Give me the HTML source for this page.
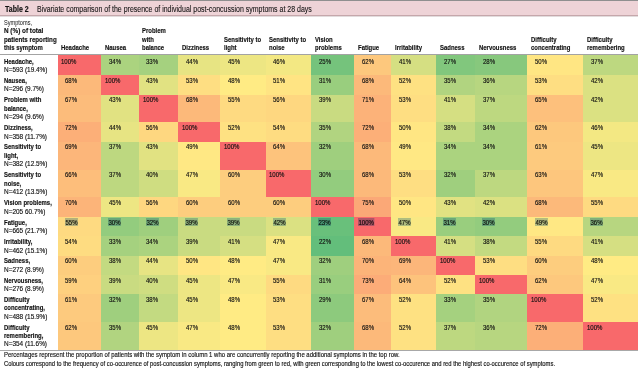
<!DOCTYPE html>
<html><head><meta charset="utf-8"><style>
html,body{margin:0;padding:0;background:#fff;}
body{width:640px;height:368px;overflow:hidden;position:relative;font-family:"Liberation Sans",sans-serif;color:#111;}
.a{position:absolute;}
.t{position:absolute;white-space:pre;font-size:7px;line-height:8.5px;transform-origin:0 0;transform:scaleX(0.92);-webkit-text-stroke:0.15px #111;}
.t.b{font-weight:bold;transform:scaleX(0.85);-webkit-text-stroke:0.15px #111;}
.n{position:absolute;white-space:pre;font-size:7px;line-height:8.5px;transform-origin:0 0;transform:scaleX(0.86);-webkit-text-stroke:0.15px #111;}
.hl{background:#b4cff5;mix-blend-mode:multiply;padding:0 0.5px;}
</style></head><body>

<div class="a" style="left:0;top:0;width:638px;height:1px;background:#8f8f8f"></div>
<div class="a" style="left:0;top:1px;width:638px;height:14px;background:#eed3d7"></div>
<div class="a" style="left:0;top:15px;width:638px;height:1px;background:#c5a7ab"></div>
<div class="a" style="left:0;top:16px;width:638px;height:1px;background:#e2dcdd"></div>
<div class="t b" style="left:4.7px;top:4.15px;font-size:8.8px;line-height:10px;transform:scaleX(0.80)">Table 2</div>
<div class="t" style="left:37px;top:4.15px;font-size:8.8px;line-height:10px;transform:scaleX(0.795);-webkit-text-stroke:0.1px #231f20">Bivariate comparison of the presence of individual post-concussion symptoms at 28 days</div>
<div class="t " style="left:4.3px;top:18.62px;transform:scaleX(0.80);-webkit-text-stroke:0">Symptoms,</div>
<div class="t b" style="left:4.3px;top:27.22px;transform:scaleX(0.91)">N (%) of total</div>
<div class="t b" style="left:4.3px;top:35.82px;transform:scaleX(0.885)">patients reporting</div>
<div class="t b" style="left:4.3px;top:44.42px">this symptom</div>
<div class="t b" style="left:61.10px;top:44.42px">Headache</div>
<div class="t b" style="left:104.80px;top:44.42px">Nausea</div>
<div class="t b" style="left:142.20px;top:27.22px">Problem</div>
<div class="t b" style="left:142.20px;top:35.82px">with</div>
<div class="t b" style="left:142.20px;top:44.42px">balance</div>
<div class="t b" style="left:181.70px;top:44.42px">Dizziness</div>
<div class="t b" style="left:223.50px;top:35.82px">Sensitivity to</div>
<div class="t b" style="left:223.50px;top:44.42px">light</div>
<div class="t b" style="left:269.10px;top:35.82px">Sensitivity to</div>
<div class="t b" style="left:269.10px;top:44.42px">noise</div>
<div class="t b" style="left:314.70px;top:35.82px">Vision</div>
<div class="t b" style="left:314.70px;top:44.42px">problems</div>
<div class="t b" style="left:357.70px;top:44.42px">Fatigue</div>
<div class="t b" style="left:394.70px;top:44.42px">Irritability</div>
<div class="t b" style="left:439.70px;top:44.42px">Sadness</div>
<div class="t b" style="left:478.70px;top:44.42px">Nervousness</div>
<div class="t b" style="left:530.90px;top:35.82px">Difficulty</div>
<div class="t b" style="left:530.90px;top:44.42px">concentrating</div>
<div class="t b" style="left:586.70px;top:35.82px">Difficulty</div>
<div class="t b" style="left:586.70px;top:44.42px">remembering</div>
<div class="a" style="left:0;top:54px;width:638px;height:1px;background:#a3a3a3"></div>
<div class="a" style="left:57.6px;top:54.5px;width:43.70px;height:20.50px;background:#f8696b"></div>
<div class="a" style="left:101.3px;top:54.5px;width:37.40px;height:20.50px;background:#abd37f"></div>
<div class="a" style="left:138.7px;top:54.5px;width:39.50px;height:20.50px;background:#a5d17f"></div>
<div class="a" style="left:178.2px;top:54.5px;width:41.80px;height:20.50px;background:#e7e483"></div>
<div class="a" style="left:220px;top:54.5px;width:45.60px;height:20.50px;background:#ede683"></div>
<div class="a" style="left:265.6px;top:54.5px;width:45.60px;height:20.50px;background:#f3e883"></div>
<div class="a" style="left:311.2px;top:54.5px;width:43.00px;height:20.50px;background:#75c37c"></div>
<div class="a" style="left:354.2px;top:54.5px;width:37.00px;height:20.50px;background:#fdc87d"></div>
<div class="a" style="left:391.2px;top:54.5px;width:45.00px;height:20.50px;background:#d5df82"></div>
<div class="a" style="left:436.2px;top:54.5px;width:39.00px;height:20.50px;background:#81c77d"></div>
<div class="a" style="left:475.2px;top:54.5px;width:52.20px;height:20.50px;background:#87c87d"></div>
<div class="a" style="left:527.4px;top:54.5px;width:55.80px;height:20.50px;background:#ffe683"></div>
<div class="a" style="left:583.2px;top:54.5px;width:54.80px;height:20.50px;background:#bdd880"></div>
<div class="n" style="left:61.40px;top:57.82px">100%</div>
<div class="n" style="left:108.80px;top:57.82px">34%</div>
<div class="n" style="left:146.20px;top:57.82px">33%</div>
<div class="n" style="left:185.70px;top:57.82px">44%</div>
<div class="n" style="left:227.50px;top:57.82px">45%</div>
<div class="n" style="left:273.10px;top:57.82px">46%</div>
<div class="n" style="left:318.70px;top:57.82px">25%</div>
<div class="n" style="left:361.70px;top:57.82px">62%</div>
<div class="n" style="left:398.70px;top:57.82px">41%</div>
<div class="n" style="left:443.70px;top:57.82px">27%</div>
<div class="n" style="left:482.70px;top:57.82px">28%</div>
<div class="n" style="left:534.90px;top:57.82px">50%</div>
<div class="n" style="left:590.70px;top:57.82px">37%</div>
<div class="t b" style="left:4.2px;top:57.82px">Headache,</div>
<div class="t " style="left:4.2px;top:66.22px">N=593 (19.4%)</div>
<div class="a" style="left:57.6px;top:75px;width:43.70px;height:19.50px;background:#fcb97a"></div>
<div class="a" style="left:101.3px;top:75px;width:37.40px;height:19.50px;background:#f8696b"></div>
<div class="a" style="left:138.7px;top:75px;width:39.50px;height:19.50px;background:#e1e282"></div>
<div class="a" style="left:178.2px;top:75px;width:41.80px;height:19.50px;background:#fede82"></div>
<div class="a" style="left:220px;top:75px;width:45.60px;height:19.50px;background:#ffeb84"></div>
<div class="a" style="left:265.6px;top:75px;width:45.60px;height:19.50px;background:#ffe483"></div>
<div class="a" style="left:311.2px;top:75px;width:43.00px;height:19.50px;background:#99ce7e"></div>
<div class="a" style="left:354.2px;top:75px;width:37.00px;height:19.50px;background:#fcb97a"></div>
<div class="a" style="left:391.2px;top:75px;width:45.00px;height:19.50px;background:#fee182"></div>
<div class="a" style="left:436.2px;top:75px;width:39.00px;height:19.50px;background:#b1d480"></div>
<div class="a" style="left:475.2px;top:75px;width:52.20px;height:19.50px;background:#b7d680"></div>
<div class="a" style="left:527.4px;top:75px;width:55.80px;height:19.50px;background:#fede82"></div>
<div class="a" style="left:583.2px;top:75px;width:54.80px;height:19.50px;background:#dbe182"></div>
<div class="n" style="left:65.10px;top:76.72px">68%</div>
<div class="n" style="left:105.10px;top:76.72px">100%</div>
<div class="n" style="left:146.20px;top:76.72px">43%</div>
<div class="n" style="left:185.70px;top:76.72px">53%</div>
<div class="n" style="left:227.50px;top:76.72px">48%</div>
<div class="n" style="left:273.10px;top:76.72px">51%</div>
<div class="n" style="left:318.70px;top:76.72px">31%</div>
<div class="n" style="left:361.70px;top:76.72px">68%</div>
<div class="n" style="left:398.70px;top:76.72px">52%</div>
<div class="n" style="left:443.70px;top:76.72px">35%</div>
<div class="n" style="left:482.70px;top:76.72px">36%</div>
<div class="n" style="left:534.90px;top:76.72px">53%</div>
<div class="n" style="left:590.70px;top:76.72px">42%</div>
<div class="t b" style="left:4.2px;top:76.72px">Nausea,</div>
<div class="t " style="left:4.2px;top:85.12px">N=296 (9.7%)</div>
<div class="a" style="left:57.6px;top:94.5px;width:43.70px;height:27.90px;background:#fcbc7b"></div>
<div class="a" style="left:101.3px;top:94.5px;width:37.40px;height:27.90px;background:#e1e282"></div>
<div class="a" style="left:138.7px;top:94.5px;width:39.50px;height:27.90px;background:#f8696b"></div>
<div class="a" style="left:178.2px;top:94.5px;width:41.80px;height:27.90px;background:#fcb97a"></div>
<div class="a" style="left:220px;top:94.5px;width:45.60px;height:27.90px;background:#feda81"></div>
<div class="a" style="left:265.6px;top:94.5px;width:45.60px;height:27.90px;background:#fed780"></div>
<div class="a" style="left:311.2px;top:94.5px;width:43.00px;height:27.90px;background:#c9db81"></div>
<div class="a" style="left:354.2px;top:94.5px;width:37.00px;height:27.90px;background:#fcb279"></div>
<div class="a" style="left:391.2px;top:94.5px;width:45.00px;height:27.90px;background:#fede82"></div>
<div class="a" style="left:436.2px;top:94.5px;width:39.00px;height:27.90px;background:#d5df82"></div>
<div class="a" style="left:475.2px;top:94.5px;width:52.20px;height:27.90px;background:#bdd880"></div>
<div class="a" style="left:527.4px;top:94.5px;width:55.80px;height:27.90px;background:#fdc07c"></div>
<div class="a" style="left:583.2px;top:94.5px;width:54.80px;height:27.90px;background:#dbe182"></div>
<div class="n" style="left:65.10px;top:96.22px">67%</div>
<div class="n" style="left:108.80px;top:96.22px">43%</div>
<div class="n" style="left:142.50px;top:96.22px">100%</div>
<div class="n" style="left:185.70px;top:96.22px">68%</div>
<div class="n" style="left:227.50px;top:96.22px">55%</div>
<div class="n" style="left:273.10px;top:96.22px">56%</div>
<div class="n" style="left:318.70px;top:96.22px">39%</div>
<div class="n" style="left:361.70px;top:96.22px">71%</div>
<div class="n" style="left:398.70px;top:96.22px">53%</div>
<div class="n" style="left:443.70px;top:96.22px">41%</div>
<div class="n" style="left:482.70px;top:96.22px">37%</div>
<div class="n" style="left:534.90px;top:96.22px">65%</div>
<div class="n" style="left:590.70px;top:96.22px">42%</div>
<div class="t b" style="left:4.2px;top:96.22px">Problem with</div>
<div class="t b" style="left:4.2px;top:104.62px">balance,</div>
<div class="t " style="left:4.2px;top:113.02px">N=294 (9.6%)</div>
<div class="a" style="left:57.6px;top:122.4px;width:43.70px;height:19.20px;background:#fcaf78"></div>
<div class="a" style="left:101.3px;top:122.4px;width:37.40px;height:19.20px;background:#e7e483"></div>
<div class="a" style="left:138.7px;top:122.4px;width:39.50px;height:19.20px;background:#fed780"></div>
<div class="a" style="left:178.2px;top:122.4px;width:41.80px;height:19.20px;background:#f8696b"></div>
<div class="a" style="left:220px;top:122.4px;width:45.60px;height:19.20px;background:#fee182"></div>
<div class="a" style="left:265.6px;top:122.4px;width:45.60px;height:19.20px;background:#fedc81"></div>
<div class="a" style="left:311.2px;top:122.4px;width:43.00px;height:19.20px;background:#b1d480"></div>
<div class="a" style="left:354.2px;top:122.4px;width:37.00px;height:19.20px;background:#fcaf78"></div>
<div class="a" style="left:391.2px;top:122.4px;width:45.00px;height:19.20px;background:#ffe683"></div>
<div class="a" style="left:436.2px;top:122.4px;width:39.00px;height:19.20px;background:#c3da81"></div>
<div class="a" style="left:475.2px;top:122.4px;width:52.20px;height:19.20px;background:#abd37f"></div>
<div class="a" style="left:527.4px;top:122.4px;width:55.80px;height:19.20px;background:#fdc87d"></div>
<div class="a" style="left:583.2px;top:122.4px;width:54.80px;height:19.20px;background:#f3e883"></div>
<div class="n" style="left:65.10px;top:124.12px">72%</div>
<div class="n" style="left:108.80px;top:124.12px">44%</div>
<div class="n" style="left:146.20px;top:124.12px">56%</div>
<div class="n" style="left:182.00px;top:124.12px">100%</div>
<div class="n" style="left:227.50px;top:124.12px">52%</div>
<div class="n" style="left:273.10px;top:124.12px">54%</div>
<div class="n" style="left:318.70px;top:124.12px">35%</div>
<div class="n" style="left:361.70px;top:124.12px">72%</div>
<div class="n" style="left:398.70px;top:124.12px">50%</div>
<div class="n" style="left:443.70px;top:124.12px">38%</div>
<div class="n" style="left:482.70px;top:124.12px">34%</div>
<div class="n" style="left:534.90px;top:124.12px">62%</div>
<div class="n" style="left:590.70px;top:124.12px">46%</div>
<div class="t b" style="left:4.2px;top:124.12px">Dizziness,</div>
<div class="t " style="left:4.2px;top:132.52px">N=358 (11.7%)</div>
<div class="a" style="left:57.6px;top:141.6px;width:43.70px;height:28.00px;background:#fcb67a"></div>
<div class="a" style="left:101.3px;top:141.6px;width:37.40px;height:28.00px;background:#bdd880"></div>
<div class="a" style="left:138.7px;top:141.6px;width:39.50px;height:28.00px;background:#e1e282"></div>
<div class="a" style="left:178.2px;top:141.6px;width:41.80px;height:28.00px;background:#ffe884"></div>
<div class="a" style="left:220px;top:141.6px;width:45.60px;height:28.00px;background:#f8696b"></div>
<div class="a" style="left:265.6px;top:141.6px;width:45.60px;height:28.00px;background:#fdc37c"></div>
<div class="a" style="left:311.2px;top:141.6px;width:43.00px;height:28.00px;background:#9fcf7e"></div>
<div class="a" style="left:354.2px;top:141.6px;width:37.00px;height:28.00px;background:#fcb97a"></div>
<div class="a" style="left:391.2px;top:141.6px;width:45.00px;height:28.00px;background:#ffe884"></div>
<div class="a" style="left:436.2px;top:141.6px;width:39.00px;height:28.00px;background:#abd37f"></div>
<div class="a" style="left:475.2px;top:141.6px;width:52.20px;height:28.00px;background:#abd37f"></div>
<div class="a" style="left:527.4px;top:141.6px;width:55.80px;height:28.00px;background:#fdca7e"></div>
<div class="a" style="left:583.2px;top:141.6px;width:54.80px;height:28.00px;background:#ede683"></div>
<div class="n" style="left:65.10px;top:143.32px">69%</div>
<div class="n" style="left:108.80px;top:143.32px">37%</div>
<div class="n" style="left:146.20px;top:143.32px">43%</div>
<div class="n" style="left:185.70px;top:143.32px">49%</div>
<div class="n" style="left:223.80px;top:143.32px">100%</div>
<div class="n" style="left:273.10px;top:143.32px">64%</div>
<div class="n" style="left:318.70px;top:143.32px">32%</div>
<div class="n" style="left:361.70px;top:143.32px">68%</div>
<div class="n" style="left:398.70px;top:143.32px">49%</div>
<div class="n" style="left:443.70px;top:143.32px">34%</div>
<div class="n" style="left:482.70px;top:143.32px">34%</div>
<div class="n" style="left:534.90px;top:143.32px">61%</div>
<div class="n" style="left:590.70px;top:143.32px">45%</div>
<div class="t b" style="left:4.2px;top:143.32px">Sensitivity to</div>
<div class="t b" style="left:4.2px;top:151.72px">light,</div>
<div class="t " style="left:4.2px;top:160.12px">N=382 (12.5%)</div>
<div class="a" style="left:57.6px;top:169.6px;width:43.70px;height:27.80px;background:#fdbe7b"></div>
<div class="a" style="left:101.3px;top:169.6px;width:37.40px;height:27.80px;background:#bdd880"></div>
<div class="a" style="left:138.7px;top:169.6px;width:39.50px;height:27.80px;background:#cfdd81"></div>
<div class="a" style="left:178.2px;top:169.6px;width:41.80px;height:27.80px;background:#f9e984"></div>
<div class="a" style="left:220px;top:169.6px;width:45.60px;height:27.80px;background:#fdcd7e"></div>
<div class="a" style="left:265.6px;top:169.6px;width:45.60px;height:27.80px;background:#f8696b"></div>
<div class="a" style="left:311.2px;top:169.6px;width:43.00px;height:27.80px;background:#93cc7e"></div>
<div class="a" style="left:354.2px;top:169.6px;width:37.00px;height:27.80px;background:#fcb97a"></div>
<div class="a" style="left:391.2px;top:169.6px;width:45.00px;height:27.80px;background:#fede82"></div>
<div class="a" style="left:436.2px;top:169.6px;width:39.00px;height:27.80px;background:#9fcf7e"></div>
<div class="a" style="left:475.2px;top:169.6px;width:52.20px;height:27.80px;background:#bdd880"></div>
<div class="a" style="left:527.4px;top:169.6px;width:55.80px;height:27.80px;background:#fdc67d"></div>
<div class="a" style="left:583.2px;top:169.6px;width:54.80px;height:27.80px;background:#f9e984"></div>
<div class="n" style="left:65.10px;top:171.32px">66%</div>
<div class="n" style="left:108.80px;top:171.32px">37%</div>
<div class="n" style="left:146.20px;top:171.32px">40%</div>
<div class="n" style="left:185.70px;top:171.32px">47%</div>
<div class="n" style="left:227.50px;top:171.32px">60%</div>
<div class="n" style="left:269.40px;top:171.32px">100%</div>
<div class="n" style="left:318.70px;top:171.32px">30%</div>
<div class="n" style="left:361.70px;top:171.32px">68%</div>
<div class="n" style="left:398.70px;top:171.32px">53%</div>
<div class="n" style="left:443.70px;top:171.32px">32%</div>
<div class="n" style="left:482.70px;top:171.32px">37%</div>
<div class="n" style="left:534.90px;top:171.32px">63%</div>
<div class="n" style="left:590.70px;top:171.32px">47%</div>
<div class="t b" style="left:4.2px;top:171.32px">Sensitivity to</div>
<div class="t b" style="left:4.2px;top:179.72px">noise,</div>
<div class="t " style="left:4.2px;top:188.12px">N=412 (13.5%)</div>
<div class="a" style="left:57.6px;top:197.4px;width:43.70px;height:19.70px;background:#fcb479"></div>
<div class="a" style="left:101.3px;top:197.4px;width:37.40px;height:19.70px;background:#ede683"></div>
<div class="a" style="left:138.7px;top:197.4px;width:39.50px;height:19.70px;background:#fed780"></div>
<div class="a" style="left:178.2px;top:197.4px;width:41.80px;height:19.70px;background:#fdcd7e"></div>
<div class="a" style="left:220px;top:197.4px;width:45.60px;height:19.70px;background:#fdcd7e"></div>
<div class="a" style="left:265.6px;top:197.4px;width:45.60px;height:19.70px;background:#fdcd7e"></div>
<div class="a" style="left:311.2px;top:197.4px;width:43.00px;height:19.70px;background:#f8696b"></div>
<div class="a" style="left:354.2px;top:197.4px;width:37.00px;height:19.70px;background:#fba877"></div>
<div class="a" style="left:391.2px;top:197.4px;width:45.00px;height:19.70px;background:#ffe683"></div>
<div class="a" style="left:436.2px;top:197.4px;width:39.00px;height:19.70px;background:#e1e282"></div>
<div class="a" style="left:475.2px;top:197.4px;width:52.20px;height:19.70px;background:#dbe182"></div>
<div class="a" style="left:527.4px;top:197.4px;width:55.80px;height:19.70px;background:#fcb97a"></div>
<div class="a" style="left:583.2px;top:197.4px;width:54.80px;height:19.70px;background:#feda81"></div>
<div class="n" style="left:65.10px;top:199.12px">70%</div>
<div class="n" style="left:108.80px;top:199.12px">45%</div>
<div class="n" style="left:146.20px;top:199.12px">56%</div>
<div class="n" style="left:185.70px;top:199.12px">60%</div>
<div class="n" style="left:227.50px;top:199.12px">60%</div>
<div class="n" style="left:273.10px;top:199.12px">60%</div>
<div class="n" style="left:315.00px;top:199.12px">100%</div>
<div class="n" style="left:361.70px;top:199.12px">75%</div>
<div class="n" style="left:398.70px;top:199.12px">50%</div>
<div class="n" style="left:443.70px;top:199.12px">43%</div>
<div class="n" style="left:482.70px;top:199.12px">42%</div>
<div class="n" style="left:534.90px;top:199.12px">68%</div>
<div class="n" style="left:590.70px;top:199.12px">55%</div>
<div class="t b" style="left:4.2px;top:199.12px">Vision problems,</div>
<div class="t " style="left:4.2px;top:207.52px">N=205 60.7%)</div>
<div class="a" style="left:57.6px;top:217.1px;width:43.70px;height:19.30px;background:#feda81"></div>
<div class="a" style="left:101.3px;top:217.1px;width:37.40px;height:19.30px;background:#93cc7e"></div>
<div class="a" style="left:138.7px;top:217.1px;width:39.50px;height:19.30px;background:#9fcf7e"></div>
<div class="a" style="left:178.2px;top:217.1px;width:41.80px;height:19.30px;background:#c9db81"></div>
<div class="a" style="left:220px;top:217.1px;width:45.60px;height:19.30px;background:#c9db81"></div>
<div class="a" style="left:265.6px;top:217.1px;width:45.60px;height:19.30px;background:#dbe182"></div>
<div class="a" style="left:311.2px;top:217.1px;width:43.00px;height:19.30px;background:#69c07b"></div>
<div class="a" style="left:354.2px;top:217.1px;width:37.00px;height:19.30px;background:#f8696b"></div>
<div class="a" style="left:391.2px;top:217.1px;width:45.00px;height:19.30px;background:#f9e984"></div>
<div class="a" style="left:436.2px;top:217.1px;width:39.00px;height:19.30px;background:#99ce7e"></div>
<div class="a" style="left:475.2px;top:217.1px;width:52.20px;height:19.30px;background:#93cc7e"></div>
<div class="a" style="left:527.4px;top:217.1px;width:55.80px;height:19.30px;background:#ffe884"></div>
<div class="a" style="left:583.2px;top:217.1px;width:54.80px;height:19.30px;background:#b7d680"></div>
<div class="n hl" style="left:64.70px;top:217.70px;line-height:9.6px;height:8.6px">55%</div>
<div class="n hl" style="left:108.40px;top:217.70px;line-height:9.6px;height:8.6px">30%</div>
<div class="n hl" style="left:145.80px;top:217.70px;line-height:9.6px;height:8.6px">32%</div>
<div class="n hl" style="left:185.30px;top:217.70px;line-height:9.6px;height:8.6px">39%</div>
<div class="n hl" style="left:227.10px;top:217.70px;line-height:9.6px;height:8.6px">39%</div>
<div class="n hl" style="left:272.70px;top:217.70px;line-height:9.6px;height:8.6px">42%</div>
<div class="n hl" style="left:318.30px;top:217.70px;line-height:9.6px;height:8.6px">23%</div>
<div class="n hl" style="left:357.60px;top:217.70px;line-height:9.6px;height:8.6px">100%</div>
<div class="n hl" style="left:398.30px;top:217.70px;line-height:9.6px;height:8.6px">47%</div>
<div class="n hl" style="left:443.30px;top:217.70px;line-height:9.6px;height:8.6px">31%</div>
<div class="n hl" style="left:482.30px;top:217.70px;line-height:9.6px;height:8.6px">30%</div>
<div class="n hl" style="left:534.50px;top:217.70px;line-height:9.6px;height:8.6px">49%</div>
<div class="n hl" style="left:590.30px;top:217.70px;line-height:9.6px;height:8.6px">36%</div>
<div class="t b" style="left:4.2px;top:218.82px">Fatigue,</div>
<div class="t " style="left:4.2px;top:227.22px">N=665 (21.7%)</div>
<div class="a" style="left:57.6px;top:236.4px;width:43.70px;height:19.30px;background:#fedc81"></div>
<div class="a" style="left:101.3px;top:236.4px;width:37.40px;height:19.30px;background:#a5d17f"></div>
<div class="a" style="left:138.7px;top:236.4px;width:39.50px;height:19.30px;background:#abd37f"></div>
<div class="a" style="left:178.2px;top:236.4px;width:41.80px;height:19.30px;background:#c9db81"></div>
<div class="a" style="left:220px;top:236.4px;width:45.60px;height:19.30px;background:#d5df82"></div>
<div class="a" style="left:265.6px;top:236.4px;width:45.60px;height:19.30px;background:#f9e984"></div>
<div class="a" style="left:311.2px;top:236.4px;width:43.00px;height:19.30px;background:#63be7b"></div>
<div class="a" style="left:354.2px;top:236.4px;width:37.00px;height:19.30px;background:#fcb97a"></div>
<div class="a" style="left:391.2px;top:236.4px;width:45.00px;height:19.30px;background:#f8696b"></div>
<div class="a" style="left:436.2px;top:236.4px;width:39.00px;height:19.30px;background:#d5df82"></div>
<div class="a" style="left:475.2px;top:236.4px;width:52.20px;height:19.30px;background:#c3da81"></div>
<div class="a" style="left:527.4px;top:236.4px;width:55.80px;height:19.30px;background:#feda81"></div>
<div class="a" style="left:583.2px;top:236.4px;width:54.80px;height:19.30px;background:#d5df82"></div>
<div class="n" style="left:65.10px;top:238.12px">54%</div>
<div class="n" style="left:108.80px;top:238.12px">33%</div>
<div class="n" style="left:146.20px;top:238.12px">34%</div>
<div class="n" style="left:185.70px;top:238.12px">39%</div>
<div class="n" style="left:227.50px;top:238.12px">41%</div>
<div class="n" style="left:273.10px;top:238.12px">47%</div>
<div class="n" style="left:318.70px;top:238.12px">22%</div>
<div class="n" style="left:361.70px;top:238.12px">68%</div>
<div class="n" style="left:395.00px;top:238.12px">100%</div>
<div class="n" style="left:443.70px;top:238.12px">41%</div>
<div class="n" style="left:482.70px;top:238.12px">38%</div>
<div class="n" style="left:534.90px;top:238.12px">55%</div>
<div class="n" style="left:590.70px;top:238.12px">41%</div>
<div class="t b" style="left:4.2px;top:238.12px">Irritability,</div>
<div class="t " style="left:4.2px;top:246.52px">N=462 (15.1%)</div>
<div class="a" style="left:57.6px;top:255.7px;width:43.70px;height:19.10px;background:#fdcd7e"></div>
<div class="a" style="left:101.3px;top:255.7px;width:37.40px;height:19.10px;background:#c3da81"></div>
<div class="a" style="left:138.7px;top:255.7px;width:39.50px;height:19.10px;background:#e7e483"></div>
<div class="a" style="left:178.2px;top:255.7px;width:41.80px;height:19.10px;background:#ffe683"></div>
<div class="a" style="left:220px;top:255.7px;width:45.60px;height:19.10px;background:#ffeb84"></div>
<div class="a" style="left:265.6px;top:255.7px;width:45.60px;height:19.10px;background:#f9e984"></div>
<div class="a" style="left:311.2px;top:255.7px;width:43.00px;height:19.10px;background:#9fcf7e"></div>
<div class="a" style="left:354.2px;top:255.7px;width:37.00px;height:19.10px;background:#fcb479"></div>
<div class="a" style="left:391.2px;top:255.7px;width:45.00px;height:19.10px;background:#fcb67a"></div>
<div class="a" style="left:436.2px;top:255.7px;width:39.00px;height:19.10px;background:#f8696b"></div>
<div class="a" style="left:475.2px;top:255.7px;width:52.20px;height:19.10px;background:#fede82"></div>
<div class="a" style="left:527.4px;top:255.7px;width:55.80px;height:19.10px;background:#fdcd7e"></div>
<div class="a" style="left:583.2px;top:255.7px;width:54.80px;height:19.10px;background:#ffeb84"></div>
<div class="n" style="left:65.10px;top:257.42px">60%</div>
<div class="n" style="left:108.80px;top:257.42px">38%</div>
<div class="n" style="left:146.20px;top:257.42px">44%</div>
<div class="n" style="left:185.70px;top:257.42px">50%</div>
<div class="n" style="left:227.50px;top:257.42px">48%</div>
<div class="n" style="left:273.10px;top:257.42px">47%</div>
<div class="n" style="left:318.70px;top:257.42px">32%</div>
<div class="n" style="left:361.70px;top:257.42px">70%</div>
<div class="n" style="left:398.70px;top:257.42px">69%</div>
<div class="n" style="left:440.00px;top:257.42px">100%</div>
<div class="n" style="left:482.70px;top:257.42px">53%</div>
<div class="n" style="left:534.90px;top:257.42px">60%</div>
<div class="n" style="left:590.70px;top:257.42px">48%</div>
<div class="t b" style="left:4.2px;top:257.42px">Sadness,</div>
<div class="t " style="left:4.2px;top:265.82px">N=272 (8.9%)</div>
<div class="a" style="left:57.6px;top:274.8px;width:43.70px;height:19.50px;background:#fed07f"></div>
<div class="a" style="left:101.3px;top:274.8px;width:37.40px;height:19.50px;background:#c9db81"></div>
<div class="a" style="left:138.7px;top:274.8px;width:39.50px;height:19.50px;background:#cfdd81"></div>
<div class="a" style="left:178.2px;top:274.8px;width:41.80px;height:19.50px;background:#ede683"></div>
<div class="a" style="left:220px;top:274.8px;width:45.60px;height:19.50px;background:#f9e984"></div>
<div class="a" style="left:265.6px;top:274.8px;width:45.60px;height:19.50px;background:#feda81"></div>
<div class="a" style="left:311.2px;top:274.8px;width:43.00px;height:19.50px;background:#99ce7e"></div>
<div class="a" style="left:354.2px;top:274.8px;width:37.00px;height:19.50px;background:#fcac78"></div>
<div class="a" style="left:391.2px;top:274.8px;width:45.00px;height:19.50px;background:#fdc37c"></div>
<div class="a" style="left:436.2px;top:274.8px;width:39.00px;height:19.50px;background:#fee182"></div>
<div class="a" style="left:475.2px;top:274.8px;width:52.20px;height:19.50px;background:#f8696b"></div>
<div class="a" style="left:527.4px;top:274.8px;width:55.80px;height:19.50px;background:#fdc87d"></div>
<div class="a" style="left:583.2px;top:274.8px;width:54.80px;height:19.50px;background:#f9e984"></div>
<div class="n" style="left:65.10px;top:276.52px">59%</div>
<div class="n" style="left:108.80px;top:276.52px">39%</div>
<div class="n" style="left:146.20px;top:276.52px">40%</div>
<div class="n" style="left:185.70px;top:276.52px">45%</div>
<div class="n" style="left:227.50px;top:276.52px">47%</div>
<div class="n" style="left:273.10px;top:276.52px">55%</div>
<div class="n" style="left:318.70px;top:276.52px">31%</div>
<div class="n" style="left:361.70px;top:276.52px">73%</div>
<div class="n" style="left:398.70px;top:276.52px">64%</div>
<div class="n" style="left:443.70px;top:276.52px">52%</div>
<div class="n" style="left:479.00px;top:276.52px">100%</div>
<div class="n" style="left:534.90px;top:276.52px">62%</div>
<div class="n" style="left:590.70px;top:276.52px">47%</div>
<div class="t b" style="left:4.2px;top:276.52px">Nervousness,</div>
<div class="t " style="left:4.2px;top:284.92px">N=276 (8.9%)</div>
<div class="a" style="left:57.6px;top:294.3px;width:43.70px;height:27.60px;background:#fdca7e"></div>
<div class="a" style="left:101.3px;top:294.3px;width:37.40px;height:27.60px;background:#9fcf7e"></div>
<div class="a" style="left:138.7px;top:294.3px;width:39.50px;height:27.60px;background:#c3da81"></div>
<div class="a" style="left:178.2px;top:294.3px;width:41.80px;height:27.60px;background:#ede683"></div>
<div class="a" style="left:220px;top:294.3px;width:45.60px;height:27.60px;background:#ffeb84"></div>
<div class="a" style="left:265.6px;top:294.3px;width:45.60px;height:27.60px;background:#fede82"></div>
<div class="a" style="left:311.2px;top:294.3px;width:43.00px;height:27.60px;background:#8dca7d"></div>
<div class="a" style="left:354.2px;top:294.3px;width:37.00px;height:27.60px;background:#fcbc7b"></div>
<div class="a" style="left:391.2px;top:294.3px;width:45.00px;height:27.60px;background:#fee182"></div>
<div class="a" style="left:436.2px;top:294.3px;width:39.00px;height:27.60px;background:#a5d17f"></div>
<div class="a" style="left:475.2px;top:294.3px;width:52.20px;height:27.60px;background:#b1d480"></div>
<div class="a" style="left:527.4px;top:294.3px;width:55.80px;height:27.60px;background:#f8696b"></div>
<div class="a" style="left:583.2px;top:294.3px;width:54.80px;height:27.60px;background:#fee182"></div>
<div class="n" style="left:65.10px;top:296.02px">61%</div>
<div class="n" style="left:108.80px;top:296.02px">32%</div>
<div class="n" style="left:146.20px;top:296.02px">38%</div>
<div class="n" style="left:185.70px;top:296.02px">45%</div>
<div class="n" style="left:227.50px;top:296.02px">48%</div>
<div class="n" style="left:273.10px;top:296.02px">53%</div>
<div class="n" style="left:318.70px;top:296.02px">29%</div>
<div class="n" style="left:361.70px;top:296.02px">67%</div>
<div class="n" style="left:398.70px;top:296.02px">52%</div>
<div class="n" style="left:443.70px;top:296.02px">33%</div>
<div class="n" style="left:482.70px;top:296.02px">35%</div>
<div class="n" style="left:531.20px;top:296.02px">100%</div>
<div class="n" style="left:590.70px;top:296.02px">52%</div>
<div class="t b" style="left:4.2px;top:296.02px">Difficulty</div>
<div class="t b" style="left:4.2px;top:304.42px">concentrating,</div>
<div class="t " style="left:4.2px;top:312.82px">N=488 (15.9%)</div>
<div class="a" style="left:57.6px;top:321.9px;width:43.70px;height:27.70px;background:#fdc87d"></div>
<div class="a" style="left:101.3px;top:321.9px;width:37.40px;height:27.70px;background:#b1d480"></div>
<div class="a" style="left:138.7px;top:321.9px;width:39.50px;height:27.70px;background:#ede683"></div>
<div class="a" style="left:178.2px;top:321.9px;width:41.80px;height:27.70px;background:#f9e984"></div>
<div class="a" style="left:220px;top:321.9px;width:45.60px;height:27.70px;background:#ffeb84"></div>
<div class="a" style="left:265.6px;top:321.9px;width:45.60px;height:27.70px;background:#fede82"></div>
<div class="a" style="left:311.2px;top:321.9px;width:43.00px;height:27.70px;background:#9fcf7e"></div>
<div class="a" style="left:354.2px;top:321.9px;width:37.00px;height:27.70px;background:#fcb97a"></div>
<div class="a" style="left:391.2px;top:321.9px;width:45.00px;height:27.70px;background:#fee182"></div>
<div class="a" style="left:436.2px;top:321.9px;width:39.00px;height:27.70px;background:#bdd880"></div>
<div class="a" style="left:475.2px;top:321.9px;width:52.20px;height:27.70px;background:#b7d680"></div>
<div class="a" style="left:527.4px;top:321.9px;width:55.80px;height:27.70px;background:#fcaf78"></div>
<div class="a" style="left:583.2px;top:321.9px;width:54.80px;height:27.70px;background:#f8696b"></div>
<div class="n" style="left:65.10px;top:323.62px">62%</div>
<div class="n" style="left:108.80px;top:323.62px">35%</div>
<div class="n" style="left:146.20px;top:323.62px">45%</div>
<div class="n" style="left:185.70px;top:323.62px">47%</div>
<div class="n" style="left:227.50px;top:323.62px">48%</div>
<div class="n" style="left:273.10px;top:323.62px">53%</div>
<div class="n" style="left:318.70px;top:323.62px">32%</div>
<div class="n" style="left:361.70px;top:323.62px">68%</div>
<div class="n" style="left:398.70px;top:323.62px">52%</div>
<div class="n" style="left:443.70px;top:323.62px">37%</div>
<div class="n" style="left:482.70px;top:323.62px">36%</div>
<div class="n" style="left:534.90px;top:323.62px">72%</div>
<div class="n" style="left:587.00px;top:323.62px">100%</div>
<div class="t b" style="left:4.2px;top:323.62px">Difficulty</div>
<div class="t b" style="left:4.2px;top:332.02px">remembering,</div>
<div class="t " style="left:4.2px;top:340.42px">N=354 (11.6%)</div>
<div class="a" style="left:0;top:349.6px;width:638px;height:1px;background:#a8a8a8"></div>
<div class="t" style="left:4.2px;top:351.32px;transform:scaleX(0.853)">Percentages represent the proportion of patients with the symptom in column 1 who are concurrently reporting the additional symptoms in the top row.</div>
<div class="t" style="left:4.2px;top:359.92px;transform:scaleX(0.836)">Colours correspond to the frequency of co-occurence of post-concussion symptoms, ranging from green to red, with green corresponding to the lowest co-occurence and red the highest co-occurence of symptoms.</div>
</body></html>
